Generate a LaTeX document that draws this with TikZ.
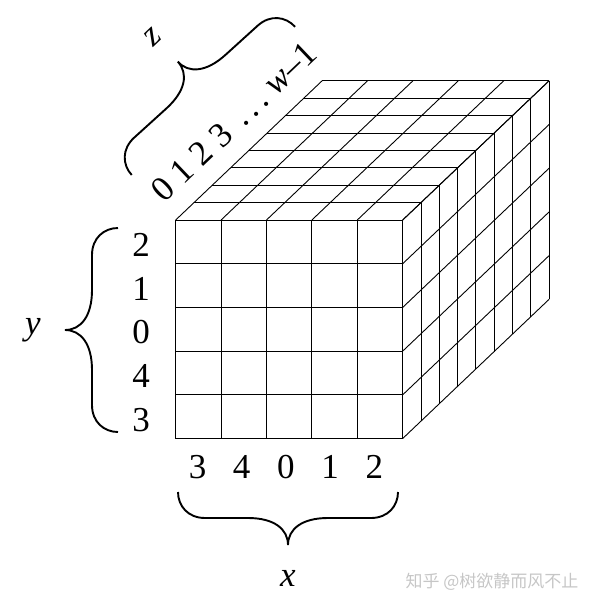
\documentclass[tikz,border=0pt]{standalone}
\usepackage{fontspec}
\setmainfont{Liberation Serif}
\newfontfamily\cjkfont{Noto Sans CJK SC}
\usepackage{tikz}

% brace of length #1, drawn along +x and opening to +y
\newcommand\curlybrace[1]{%
  \draw[line width=1.9pt] (0,0) .. controls (0,14) and (10,26) .. (27,26)
    -- (#1/2-40,26) .. controls (#1/2-14,26) and (#1/2,37) .. (#1/2,53)
    .. controls (#1/2,37) and (#1/2+14,26) .. (#1/2+40,26)
    -- (#1-27,26) .. controls (#1-10,26) and (#1,14) .. (#1,0);}

\begin{document}
\begin{tikzpicture}[x=1pt,y=-1pt,
    cell/.style={line width=0.9pt},
    lab/.style={font=\fontsize{35}{40}\selectfont,inner sep=0pt}]
  \useasboundingbox (0,0) rectangle (597,607);
  % front face and the lines going back
  \foreach \i in {0,...,5} {
    \draw[cell] (175.7+\i*45.4,220) -- (175.7+\i*45.4,438.5);
    \draw[cell] (175.7,220+\i*43.7) -- (402.7,220+\i*43.7);
    \draw[cell] (175.7+\i*45.4,220) -- ++(146.4,-139.2);
    \draw[cell] (402.7,220+\i*43.7) -- ++(146.4,-139.2);
  }
  % layers in depth
  \foreach \k in {1,...,8} {
    \draw[cell] (175.7+\k*18.3,220-\k*17.4) -- ++(227,0);
    \draw[cell] (402.7+\k*18.3,220-\k*17.4) -- ++(0,218.5);
  }
  % y labels
  \foreach \v [count=\j from 0] in {2,1,0,4,3}
    \node[lab] (y\j) at (141,244.9+\j*43.7) {\v};
  \begin{scope}[shift={(118,432)},rotate=90,x=1pt,y=1pt]
    \curlybrace{204}
  \end{scope}
  \node[lab] (ylab) at (33,330) {\textit{y}};
  % x labels
  \foreach \v [count=\i from 0] in {3,4,0,1,2}
    \node[lab] (x\i) at (197.5+\i*44.2,467) {\v};
  \begin{scope}[shift={(398,492)},rotate=180,x=1pt,y=1pt]
    \curlybrace{220}
  \end{scope}
  \node[lab] (xlab) at (288,578) {\textit{x}};
  % z labels
  \node[lab,rotate=43.6] (zvals) at (234,122)
    {0\hspace{9pt}1\hspace{9pt}2\hspace{9pt}3\hspace{13.5pt}.\hspace{5.3pt}.\hspace{5.3pt}.\hspace{8pt}\textit{w}–1};
  \begin{scope}[shift={(131.7,175)},rotate=42.2,x=1pt,y=1pt]
    \curlybrace{220.6}
  \end{scope}
  \node[lab,rotate=43.6] (zlab) at (153,37) {\textit{z}};
  \node[font=\cjkfont\fontsize{17}{20}\selectfont,text=gray!45] (mark) at (492,582) {知乎 @树欲静而风不止};
\end{tikzpicture}
\end{document}
